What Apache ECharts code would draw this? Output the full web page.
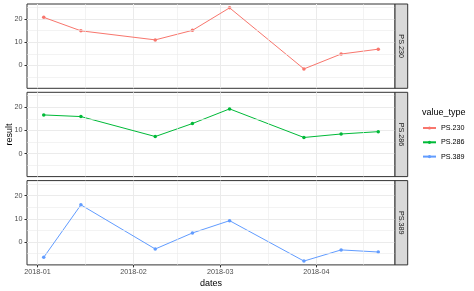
<!DOCTYPE html>
<html>
<head>
<meta charset="utf-8">
<script src="https://cdn.jsdelivr.net/npm/echarts@6/dist/echarts.min.js"></script>
<style>
html,body{margin:0;padding:0;background:#fff;}
#c{width:474px;height:291px;}
</style>
</head>
<body>
<div id="c"></div>
<script>
// ---- data ----
const dates = ['2018-01-03','2018-01-15','2018-02-08','2018-02-20','2018-03-04','2018-03-28','2018-04-09','2018-04-21'];
const ps230 = [20.7, 14.9, 11.0, 15.1, 24.8, -1.5, 4.9, 7.0];
const ps286 = [16.7, 16.0, 7.4, 13.0, 19.3, 7.0, 8.5, 9.5];
const ps389 = [-6.6, 16.0, -3.0, 3.9, 9.2, -8.2, -3.4, -4.3];
const seriesNames = ['PS.230', 'PS.286', 'PS.389'];
const seriesValues = [ps230, ps286, ps389];
const colors = ['#F8766D', '#00BA38', '#619CFF'];
const xTickLabels = ['2018-01-01', '2018-02-01', '2018-03-01', '2018-04-01'];
const xMinorBreaks = ['2018-01-16T12:00:00', '2018-02-15T00:00:00', '2018-03-16T12:00:00', '2018-04-16T00:00:00'];
const yTicks = [0, 10, 20];
const yMinorBreaks = [-5, 5, 15, 25];
const legendTitle = 'value_type';
const xTitle = 'dates';
const yTitle = 'result';

const toTime = s => +new Date(s.length === 10 ? s + 'T00:00:00' : s);

// ---- scales (ggplot-like 5% expansion) ----
const ts = dates.map(toTime);
const t0 = Math.min(...ts), t1 = Math.max(...ts);
const xMin = t0 - 0.05 * (t1 - t0), xMax = t1 + 0.05 * (t1 - t0);
const allV = [].concat(...seriesValues);
const v0 = Math.min(...allV), v1 = Math.max(...allV);
const yMin = v0 - 0.05 * (v1 - v0), yMax = v1 + 0.05 * (v1 - v0);
const xTickVals = xTickLabels.map(toTime);
const xMinorVals = xMinorBreaks.map(toTime);

// ---- layout ----
const L = 27, W = 368, H = 84.3;
const tops = [4, 92.3, 180.6];
const stripW = 12.7;
const gridColor = '#ebebeb';
const border = '#333333';
const FF = 'Liberation Sans, Arial, sans-serif';

const fmtMonth = v => { const d = new Date(v); return d.getFullYear() + '-' + String(d.getMonth() + 1).padStart(2, '0'); };

const grids = [], xAxes = [], yAxes = [], series = [], graphics = [];
for (let i = 0; i < 3; i++) {
  grids.push({ left: L, top: tops[i], width: W, height: H, show: true, backgroundColor: '#fff', borderColor: border, borderWidth: 1, containLabel: false, outerBoundsMode: 'none' });
  const last = i === 2;
  xAxes.push({
    type: 'value', gridIndex: i, min: xMin, max: xMax, position: 'bottom',
    axisLine: { show: false, onZero: false },
    axisTick: { show: last, length: 2.5, lineStyle: { color: border, width: 1 }, customValues: xTickVals },
    axisLabel: { show: last, customValues: xTickVals, formatter: fmtMonth, fontSize: 7.2, color: '#4d4d4d', fontFamily: FF, margin: 4 },
    splitLine: { show: true, lineStyle: { color: gridColor, width: 1 } },
    name: last ? xTitle : '', nameLocation: 'middle', nameGap: 14, nameMoveOverlap: false,
    nameTextStyle: { fontSize: 9, color: '#000', fontFamily: FF }
  });
  yAxes.push({
    type: 'value', gridIndex: i, min: yMin, max: yMax, position: 'left',
    axisLine: { show: false, onZero: false },
    axisTick: { show: true, length: 2.5, lineStyle: { color: border, width: 1 }, customValues: yTicks },
    axisLabel: { customValues: yTicks, fontSize: 7.2, color: '#4d4d4d', fontFamily: FF, margin: 4.5 },
    splitLine: { show: true, lineStyle: { color: gridColor, width: 1 } },
    name: i === 1 ? yTitle : '', nameLocation: 'middle', nameGap: 12.5, nameRotate: 90, nameMoveOverlap: false,
    nameTextStyle: { fontSize: 9, color: '#000', fontFamily: FF }
  });
  // minor grid lines
  series.push({
    type: 'line', xAxisIndex: i, yAxisIndex: i, data: [], silent: true, z: 1,
    markLine: {
      silent: true, symbol: 'none', label: { show: false }, animation: false,
      lineStyle: { color: gridColor, width: 0.6, type: 'solid' },
      emphasis: { disabled: true },
      data: yMinorBreaks.map(v => ({ yAxis: v })).concat(xMinorVals.map(v => ({ xAxis: v })))
    }
  });
  series.push({
    name: seriesNames[i], type: 'line', xAxisIndex: i, yAxisIndex: i, z: 3,
    data: ts.map((t, k) => [t, seriesValues[i][k]]),
    symbol: 'circle', symbolSize: 3.5, showSymbol: true,
    lineStyle: { color: colors[i], width: 1 }, itemStyle: { color: colors[i] },
    animation: false, silent: true
  });
  // facet strip
  graphics.push({
    type: 'rect', shape: { x: L + W, y: tops[i], width: stripW, height: H },
    style: { fill: '#d9d9d9', stroke: border, lineWidth: 1 }, z: 10
  });
  graphics.push({
    type: 'text', x: L + W + stripW / 2, y: tops[i] + H / 2, rotation: -Math.PI / 2,
    style: { text: seriesNames[i], fontSize: 7.2, fill: '#1a1a1a', align: 'center', verticalAlign: 'middle', fontFamily: FF }, z: 11
  });
}

const chart = echarts.init(document.getElementById('c'), null, { renderer: 'canvas' });
chart.setOption({
  animation: false,
  backgroundColor: '#fff',
  title: { text: legendTitle, left: 422, top: 108, padding: 0, textStyle: { fontSize: 9, fontWeight: 'normal', color: '#000', fontFamily: FF } },
  legend: {
    orient: 'vertical', left: 422, top: 124.5, padding: 0, itemWidth: 13, itemHeight: 4, itemGap: 7.3,
    data: seriesNames,
    textStyle: { fontSize: 7.2, color: '#000', fontFamily: FF },
    selectedMode: false
  },
  grid: grids, xAxis: xAxes, yAxis: yAxes, series: series,
  graphic: graphics
});
</script>
</body>
</html>
